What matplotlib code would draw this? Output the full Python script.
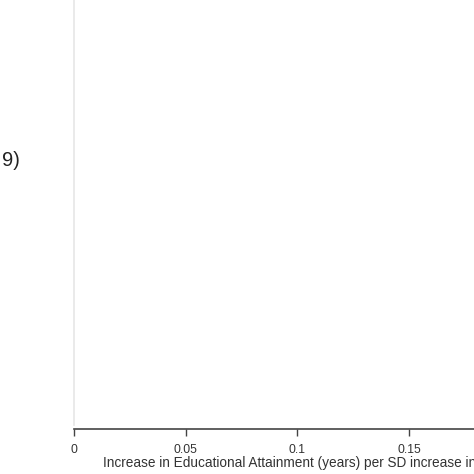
import matplotlib
matplotlib.use("Agg")
import matplotlib.pyplot as plt

# Data
tick_values = [0, 0.05, 0.1, 0.15]
tick_labels = ["0", "0.05", "0.1", "0.15"]
row_labels = ["9)"]
row_positions = [0.625]
null_value = 0
axis_max = 0.2
x_label = "Increase in Educational Attainment (years) per SD increase in"

plt.rcParams['font.family'] = ['Liberation Sans', 'DejaVu Sans']

W = H = 474
fig = plt.figure(figsize=(4.74, 4.74), dpi=100)
fig.patch.set_facecolor('white')
ax_bottom_px = 474 - 429
ax = fig.add_axes([0, ax_bottom_px / H, 1, 1 - ax_bottom_px / H])

px_per_unit = 111.7 / 0.05
x0_px = 74
ax.set_xlim(-x0_px / px_per_unit, (W - x0_px) / px_per_unit)
ax.set_ylim(0, 1)

# null line
ax.axvline(null_value, ymin=4 / (H - ax_bottom_px), ymax=1, color='#e6e6e6', lw=1.2)

for sp in ['top', 'right', 'left']:
    ax.spines[sp].set_visible(False)
ax.spines['bottom'].set_bounds(0, axis_max)
ax.spines['bottom'].set_color('#444444')
ax.spines['bottom'].set_linewidth(1.2)
ax.set_yticks([])
ax.set_xticks(tick_values)
ax.set_xticklabels(tick_labels)
ax.tick_params(axis='x', length=5, width=1.0, color='#444444', pad=6,
               labelsize=8.7, labelcolor='#333333')

for lab, yp in zip(row_labels, row_positions):
    ax.text(20 / W, yp, lab, transform=ax.transAxes, ha='right', va='center',
            fontsize=14.5, color='#222222')

fig.text(103 / W, 1 - 463 / H, x_label, ha='left', va='center',
         fontsize=9.8, color='#333333')

fig.savefig("out.png", dpi=100, facecolor='white')
